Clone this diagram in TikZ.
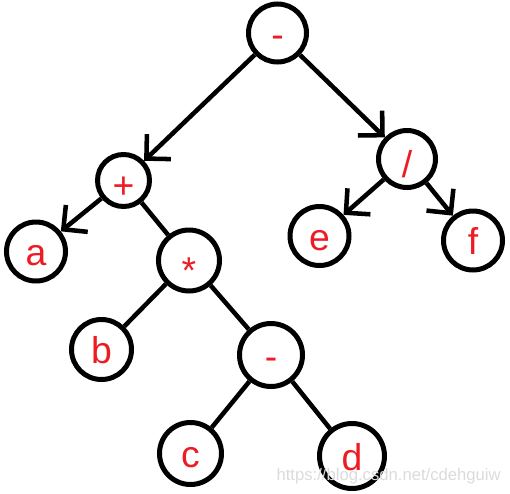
\documentclass[tikz,border=0pt]{standalone}
\usepackage{fontspec}
\setmainfont{Liberation Sans}
\usetikzlibrary{arrows.meta}
\definecolor{lblred}{RGB}{237,28,36}
\begin{document}
\begin{tikzpicture}[x=0.75pt,y=-0.75pt,
  tn/.style={circle,draw=black,line width=3.75pt,inner sep=0pt,text=lblred,
    font=\fontsize{28}{28}\selectfont,text height=21pt,text depth=0pt},
  edge/.style={line width=3.4pt},
  arr/.style={edge,-{Straight Barb[length=13pt,width=26pt,line cap=butt,line join=miter]}},
  wm/.style={text=black!14,font=\fontsize{12.5}{12.5}\selectfont,inner sep=0pt}]
\useasboundingbox (0,0) rectangle (510,493);
\node[tn,minimum size={58*0.75pt}] (root) at (277.5,33) {-};
\node[tn,minimum size={52*0.75pt}] (plus) at (123.5,180.5) {\raisebox{-3pt}{+}};
\node[tn,minimum size={57*0.75pt}] (slash) at (407,159) {\raisebox{-3pt}{/}};
\node[tn,minimum size={59*0.75pt}] (a) at (36,251.5) {a};
\node[tn,minimum size={61*0.75pt}] (star) at (189,260.5) {\raisebox{-7pt}{*}};
\node[tn,minimum size={59*0.75pt}] (e) at (319.5,236) {e};
\node[tn,minimum size={59*0.75pt}] (f) at (473,240.5) {f};
\node[tn,minimum size={60*0.75pt}] (b) at (101.5,349.5) {b};
\node[tn,minimum size={63*0.75pt}] (minus) at (271,355) {-};
\node[tn,minimum size={62*0.75pt}] (c) at (190.5,453.5) {c};
\node[tn,minimum size={65*0.75pt}] (d) at (352,456) {d};
\draw[arr] (root) -- (plus);
\draw[arr] (root) -- (slash);
\draw[arr] (plus) -- (a);
\draw[edge] (plus) -- (star);
\draw[arr] (slash) -- (e);
\draw[arr] (slash) -- (f);
\draw[edge] (star) -- (b);
\draw[edge] (star) -- (minus);
\draw[edge] (minus) -- (c);
\draw[edge] (minus) -- (d);
\node[wm,anchor=east] (wmark) at (501,476) {https://blog.csdn.net/cdehguiw};
\end{tikzpicture}
\end{document}
